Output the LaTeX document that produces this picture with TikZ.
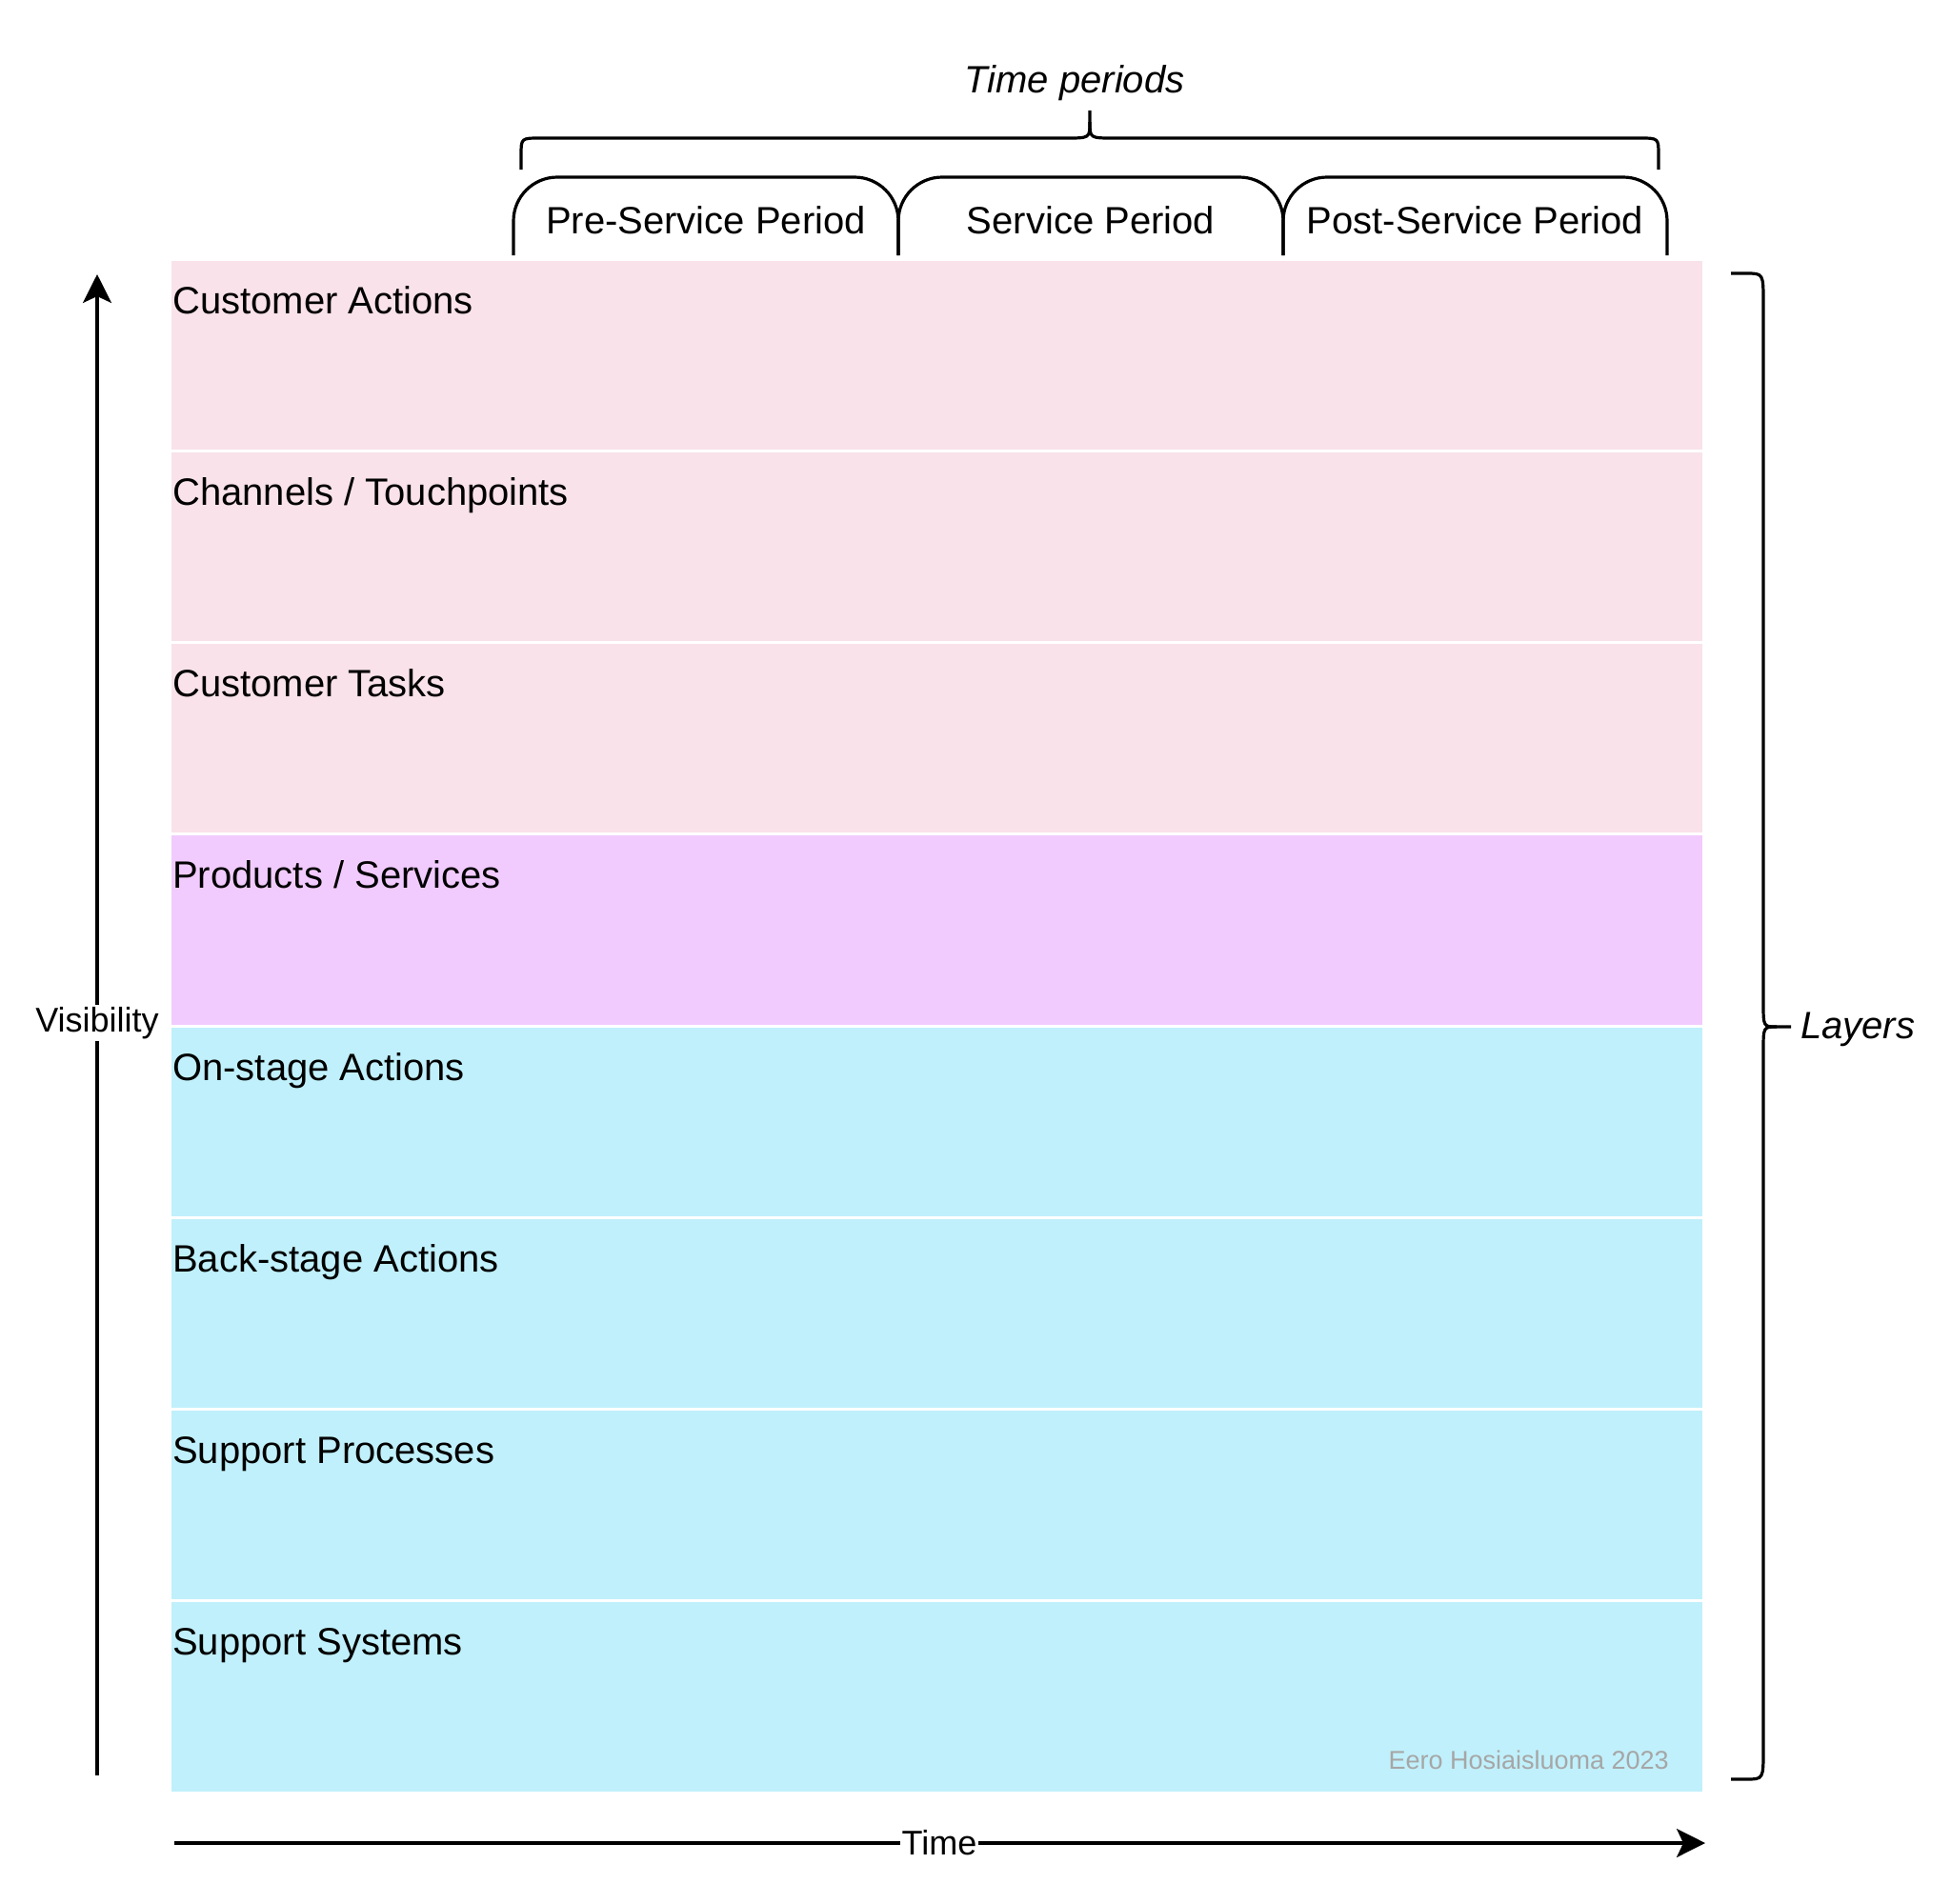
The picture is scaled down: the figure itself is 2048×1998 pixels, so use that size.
\documentclass[tikz,border=0pt]{standalone}
\usepackage{fontspec}
\setmainfont{Liberation Sans}
\usetikzlibrary{arrows.meta}
\definecolor{bandpink}{HTML}{F9E2EA}
\definecolor{bandpurple}{HTML}{F2CBFE}
\definecolor{bandcyan}{HTML}{C0F0FB}
\definecolor{creditgrey}{HTML}{A6A6A6}
\begin{document}
\begin{tikzpicture}[x=1pt,y=-1pt,
  band/.style={draw=white, line width=3pt, anchor=north west, minimum width=1610pt, minimum height=201.25pt, inner sep=0pt, outer sep=0pt},
  bandlabel/.style={anchor=base west, inner sep=0pt, font=\fontsize{40}{48}\selectfont},
  tablabel/.style={anchor=base, inner sep=0pt, font=\fontsize{40}{48}\selectfont},
  bracelabel/.style={inner sep=0pt, font=\fontsize{40}{48}\selectfont\itshape},
  axislabel/.style={fill=white, inner sep=2pt, font=\fontsize{36}{43}\selectfont},
  stroke/.style={line width=3.2pt, black},
  tabline/.style={stroke, rounded corners=46pt},
  axis/.style={stroke, -{Stealth[length=30pt,width=30pt,inset=7pt]}}
]
\useasboundingbox (0,0) rectangle (2048,1998);

% layer bands
\node[band, fill=bandpink]   (b1) at (178,272) {};
\node[band, fill=bandpink]   (b2) at (178,473.25) {};
\node[band, fill=bandpink]   (b3) at (178,674.5) {};
\node[band, fill=bandpurple] (b4) at (178,875.75) {};
\node[band, fill=bandcyan]   (b5) at (178,1077) {};
\node[band, fill=bandcyan]   (b6) at (178,1278.25) {};
\node[band, fill=bandcyan]   (b7) at (178,1479.5) {};
\node[band, fill=bandcyan]   (b8) at (178,1680.75) {};

\node[bandlabel] (l1) at (181,329)    {Customer Actions};
\node[bandlabel] (l2) at (181,530.25) {Channels / Touchpoints};
\node[bandlabel] (l3) at (181,731.5)  {Customer Tasks};
\node[bandlabel] (l4) at (181,932.75) {Products / Services};
\node[bandlabel] (l5) at (181,1134)   {On-stage Actions};
\node[bandlabel] (l6) at (181,1335.25){Back-stage Actions};
\node[bandlabel] (l7) at (181,1536.5) {Support Processes};
\node[bandlabel] (l8) at (181,1737.75){Support Systems};

\node[anchor=base east, inner sep=0pt, text=creditgrey, font=\fontsize{27}{32}\selectfont] (credit) at (1752,1857) {Eero Hosiaisluoma 2023};

% period tabs
\draw[tabline] (539,268) -- (539,186) -- (943,186) -- (943,268);
\draw[tabline] (943,268) -- (943,186) -- (1347,186) -- (1347,268);
\draw[tabline] (1347,268) -- (1347,186) -- (1750,186) -- (1750,268);
\node[tablabel] (t1) at (741,245)    {Pre-Service Period};
\node[tablabel] (t2) at (1145,245)   {Service Period};
\node[tablabel] (t3) at (1548.5,245) {Post-Service Period};

% top brace
\draw[stroke] (547,178) -- (547,163) .. controls (547,145) .. (567,145) -- (1119,145) .. controls (1144,145) .. (1144,128) -- (1144,116);
\draw[stroke] (1144,128) .. controls (1144,145) .. (1169,145) -- (1721,145) .. controls (1741,145) .. (1741,163) -- (1741,178);
\node[bracelabel, anchor=base] (tp) at (1128,97) {Time periods};

% right brace
\draw[stroke] (1817,287) -- (1833,287) .. controls (1851,287) .. (1851,318) -- (1851,1053) .. controls (1851,1078) .. (1865,1078) -- (1880,1078);
\draw[stroke] (1865,1078) .. controls (1851,1078) .. (1851,1103) -- (1851,1837) .. controls (1851,1868) .. (1833,1868) -- (1817,1868);
\node[bracelabel, anchor=base west] (layers) at (1890,1090) {Layers};

% axes
\coordinate (vbot) at (102,1864);
\coordinate (vtop) at (102,288);
\draw[axis] (vbot) -- (vtop);
\node[axislabel] (vis) at (102,1074) {Visibility};

\coordinate (tstart) at (183,1935);
\coordinate (tend) at (1790,1935);
\draw[axis] (tstart) -- (tend);
\node[axislabel] (time) at (986,1935) {Time};
\end{tikzpicture}
\end{document}
